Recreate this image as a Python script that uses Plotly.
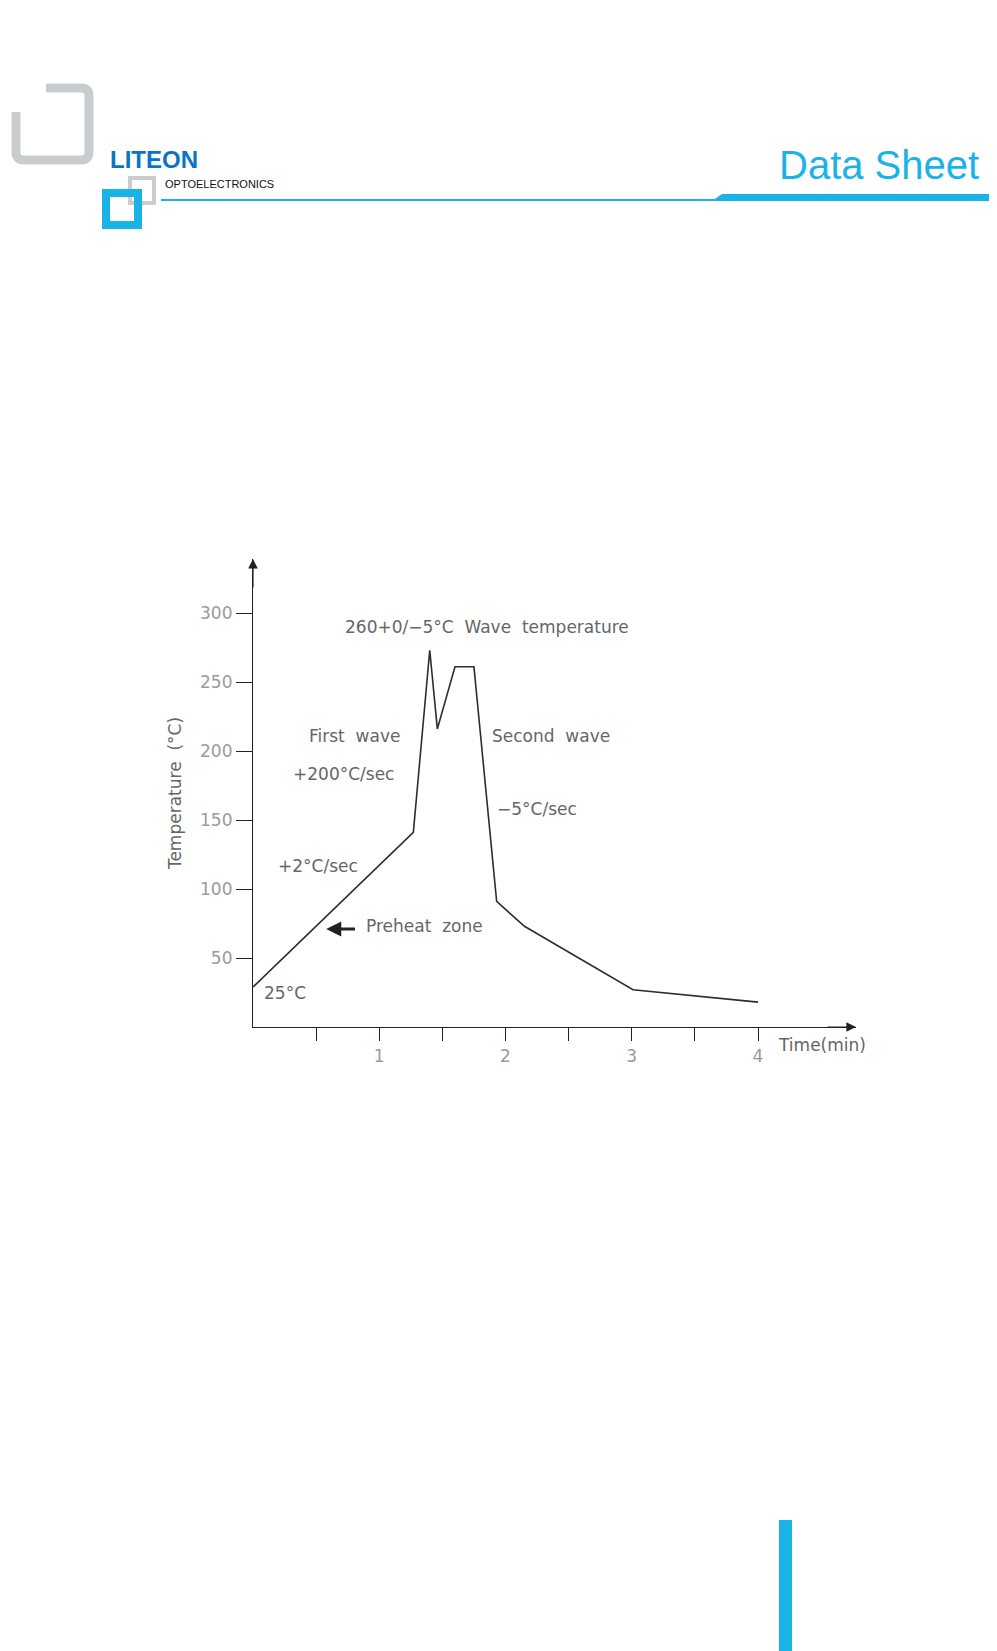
import plotly.graph_objects as go

W, H = 997, 1651

# reflow profile
time_min = [0, 1.27, 1.40, 1.46, 1.60, 1.75, 1.93, 2.15, 3.01, 4.0]
temp_c = [29, 141, 273, 216, 261, 261, 91, 73, 27, 18]
y_ticks = [50, 100, 150, 200, 250, 300]
x_ticks = [0.5, 1, 1.5, 2, 2.5, 3, 3.5, 4]
x_labels = ["", "1", "", "2", "", "3", "", "4"]


def px(x):
    return x / W


def py(y):
    return 1 - y / H


X0, X4, XE = 245, 750, 848
Y0, Y300, YE = 1019, 605, 551
xmax = 4 * (XE - X0) / (X4 - X0)
ymax = 300 * (Y0 - YE) / (Y0 - Y300)

fig = go.Figure()
fig.add_trace(go.Scatter(x=time_min, y=temp_c, mode="lines",
                         line=dict(color="#2a2e33", width=1.6),
                         hoverinfo="skip", showlegend=False))

grey = "#9a9a9a"
fig.update_layout(
    width=W, height=H, margin=dict(l=0, r=0, t=0, b=0),
    paper_bgcolor="white", plot_bgcolor="white",
    font=dict(family="DejaVu Sans", color=grey),
    xaxis=dict(domain=[px(X0), px(XE)], range=[0, xmax], showgrid=False,
               zeroline=False, showline=True, linecolor="#222", linewidth=1.2,
               tickvals=x_ticks, ticktext=x_labels, ticks="outside", ticklen=13,
               tickcolor="#222", tickfont=dict(size=17, color=grey),
               anchor="y"),
    yaxis=dict(domain=[py(Y0), py(YE)], range=[0, ymax], showgrid=False,
               zeroline=False, showline=True, linecolor="#222", linewidth=1.2,
               tickvals=y_ticks, ticks="outside", ticklen=16, tickcolor="#222",
               tickfont=dict(size=17, color=grey),
               title=dict(text="Temperature  (°C)", font=dict(size=17, color="#666"),
                          standoff=14),
               anchor="x"),
)

txt = "#666"
ann = [
    (1.85, 290, "260+0/−5°C  Wave  temperature", "center"),
    (0.80, 211, "First  wave", "center"),
    (0.72, 183, "+200°C/sec", "center"),
    (1.88, 211, "Second  wave", "left"),
    (1.92, 158, "−5°C/sec", "left"),
    (0.18, 117, "+2°C/sec", "left"),
    (0.88, 73, "Preheat  zone", "left"),
    (0.07, 25, "25°C", "left"),
]
for x, y, t, a in ann:
    fig.add_annotation(x=x, y=y, text=t, showarrow=False, xanchor=a,
                       font=dict(size=17, color=txt))
fig.add_annotation(x=px(XE - 80), y=py(Y0 + 18), xref="paper", yref="paper",
                   text="Time(min)", showarrow=False, xanchor="left",
                   font=dict(size=17, color=txt))
# preheat arrow
fig.add_annotation(x=0.58, y=71, ax=0.82, ay=71, axref="x", ayref="y", text="",
                   showarrow=True, arrowhead=2, arrowsize=1, arrowwidth=3, arrowcolor="#222")
# axis arrows
fig.add_annotation(x=px(XE), y=py(Y0), ax=-30, ay=0, xref="paper", yref="paper",
                   text="", showarrow=True, arrowhead=2, arrowsize=1.6, arrowwidth=1.2,
                   arrowcolor="#222")
fig.add_annotation(x=px(X0), y=py(YE), ax=0, ay=30, xref="paper", yref="paper",
                   text="", showarrow=True, arrowhead=2, arrowsize=1.6, arrowwidth=1.2,
                   arrowcolor="#222")

# header
blue = "#1ab3e8"
lg = "#c9cdd0"
fig.add_shape(type="path", xref="paper", yref="paper",
              path=f"M {px(38)},{py(80)} L {px(73)},{py(80)} Q {px(81)},{py(80)} {px(81)},{py(88)} "
                   f"L {px(81)},{py(144)} Q {px(81)},{py(152)} {px(73)},{py(152)} L {px(16)},{py(152)} "
                   f"Q {px(8)},{py(152)} {px(8)},{py(144)} L {px(8)},{py(104)}",
              line=dict(color=lg, width=9))
fig.add_shape(type="rect", xref="paper", yref="paper", x0=px(122), x1=px(146),
              y0=py(170), y1=py(195), line=dict(color=lg, width=4))
fig.add_shape(type="rect", xref="paper", yref="paper", x0=px(98), x1=px(130),
              y0=py(185), y1=py(217), line=dict(color=blue, width=8))
fig.add_shape(type="line", xref="paper", yref="paper", x0=px(153), x1=px(714),
              y0=py(192), y1=py(192), line=dict(color=blue, width=2))
fig.add_shape(type="path", xref="paper", yref="paper",
              path=f"M {px(704)},{py(193)} L {px(714)},{py(186)} L {px(991)},{py(186)} "
                   f"L {px(991)},{py(193)} Z",
              fillcolor=blue, line=dict(width=0))
fig.add_shape(type="rect", xref="paper", yref="paper", x0=px(771), x1=px(784),
              y0=py(1512), y1=py(1651), fillcolor=blue, line=dict(width=0))
fig.add_annotation(x=px(100), y=py(151), xref="paper", yref="paper", text="<b>LITEON</b>",
                   showarrow=False, xanchor="left", yanchor="middle",
                   font=dict(family="Liberation Sans Narrow, Liberation Sans", size=24, color="#0a74c4"))
fig.add_annotation(x=px(155), y=py(176), xref="paper", yref="paper", text="OPTOELECTRONICS",
                   showarrow=False, xanchor="left", yanchor="middle",
                   font=dict(family="Liberation Sans", size=11, color="#111"))
fig.add_annotation(x=px(973), y=py(157), xref="paper", yref="paper", text="Data Sheet",
                   showarrow=False, xanchor="right", yanchor="middle",
                   font=dict(family="Liberation Sans", size=40, color=blue))

fig.write_html("out.html")
